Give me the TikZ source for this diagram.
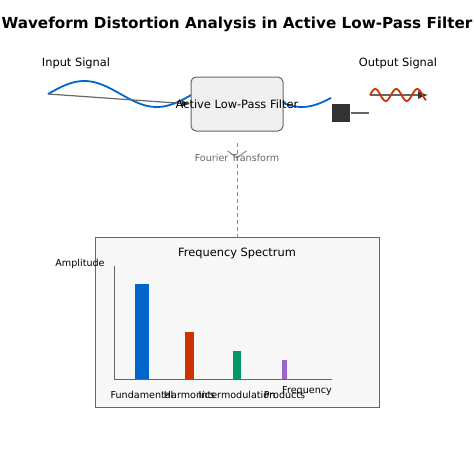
\documentclass[tikz,border=0pt]{standalone}
\usepackage{fontspec}
\setmainfont{DejaVu Sans}
\usetikzlibrary{arrows.meta,decorations.markings}
\definecolor{linegray}{HTML}{666666}
\definecolor{darkgray}{HTML}{333333}
\definecolor{sigblue}{HTML}{0066CC}
\definecolor{sigred}{HTML}{CC3300}
\definecolor{sigteal}{HTML}{009966}
\definecolor{sigpurple}{HTML}{9966CC}

\begin{document}
\begin{tikzpicture}[x=1pt,y=-1pt,line width=1pt,
  txtbig/.style={font=\fontsize{11.4}{14}\selectfont,anchor=base,inner sep=0pt},
  txtsmall/.style={font=\fontsize{9.6}{12}\selectfont,anchor=base,inner sep=0pt},
  wire/.style={linegray,line width=1.2pt}]
  \useasboundingbox (0,0) rectangle (474,474);
  % titulo
  \node[font=\bfseries\fontsize{15.2}{19}\selectfont,anchor=base,inner sep=0pt] (title) at (237,28) {Waveform Distortion Analysis in Active Low-Pass Filter};
  % senal de entrada
  \node[txtbig] (inlbl) at (76,66) {Input Signal};
  \draw[sigblue,line width=1.8pt] plot[domain=48:331,samples=120] (\x,{94-13*sin(2.4828*(\x-48))});
  \coordinate (instart) at (48,94);
  % filtro
  \node[draw=linegray,fill=black!6,rounded corners=5pt,minimum width=92pt,minimum height=54pt,inner sep=0pt] (filter) at (237,104) {};
  \draw[wire,-{Latex[length=9pt,width=7pt,color=darkgray]}] (instart) -- (filter.west);
  \node[font=\fontsize{11.4}{14}\selectfont,inner sep=0pt] (filterlbl) at (filter.center) {Active Low-Pass Filter};
  % salida
  \node[fill=darkgray,minimum size=18pt,inner sep=0pt] (outbox) at (341,113) {};
  \coordinate (outend) at (369,113);
  \draw[wire] (outbox.east) -- (outend);
  \node[txtbig] (outlbl) at (398,66) {Output Signal};
  \coordinate (outa) at (370,95);
  \coordinate (outb) at (428,95);
  \draw[wire,-{Latex[length=10pt,width=8pt,color=darkgray]}] (outa) -- (outb);
  \draw[sigred,line width=1.8pt] plot[domain=370:426,samples=80] (\x,{95-6*sin(17.143*(\x-370))});
  % transformada de fourier
  \node[draw=linegray,fill=black!3,minimum width=284pt,minimum height=170pt,inner sep=0pt] (spec) at (237,322) {};
  \draw[black!45,dash pattern=on 4pt off 3pt,
    postaction={decorate},decoration={markings,mark=at position 16pt with {\arrow[black!45,line width=1pt]{Straight Barb[length=7pt,width=19pt]}}}]
    ([yshift=-11pt]filter.south) -- (spec.north);
  \node[txtsmall,text=linegray] (fourier) at (237,161) {Fourier Transform};
  % espectro
  \node[txtbig] (spectitle) at (237,256) {Frequency Spectrum};
  \node[txtsmall] (amp) at (80,266) {Amplitude};
  \draw[linegray] (114,266) -- (114,379) -- (332,379);
  \fill[sigblue] (135,379) rectangle (149,284);
  \fill[sigred] (185,379) rectangle (194,332);
  \fill[sigteal] (233,379) rectangle (241,351);
  \fill[sigpurple] (282,379) rectangle (287,360);
  \foreach \cx/\name/\txt in {142/fund/Fundamental,189.5/harm/Harmonics,237/inter/Intermodulation,284.5/prod/Products}
    \node[txtsmall] (\name) at (\cx,398) {\txt};
  \node[txtsmall] (freq) at (307,393) {Frequency};
\end{tikzpicture}
\end{document}
